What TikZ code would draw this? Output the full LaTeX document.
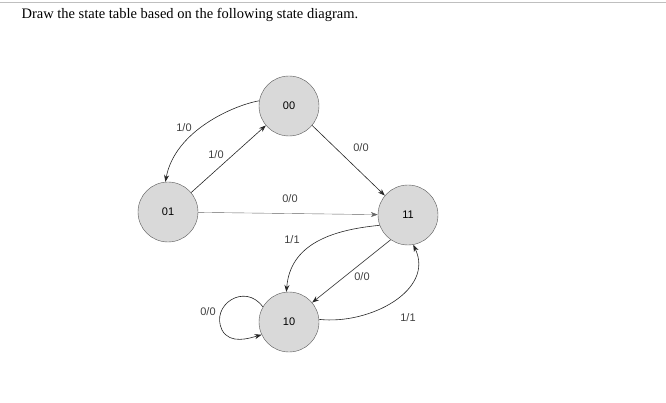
\documentclass[tikz,border=0pt]{standalone}
\usepackage{fontspec}
\setmainfont{Liberation Serif}
\newfontfamily\lab{Liberation Sans}
\usetikzlibrary{arrows.meta}
\begin{document}
\begin{tikzpicture}[x=1pt,y=-1pt,
  st/.style={circle,draw=gray!70!black,fill=gray!30,minimum size=60pt,inner sep=0,font=\lab\fontsize{11}{13}\selectfont},
  lb/.style={font=\lab\fontsize{11}{13}\selectfont,text=black!75},
  ed/.style={draw=black!85,line width=0.6pt,-{Stealth[length=7pt,width=5pt]}}]
\useasboundingbox (0,0) rectangle (666,403);
\draw[gray!50] (0,2) -- (666,2);
\node[anchor=west,font=\fontsize{14.5}{17}\selectfont] (title) at (18,15) {Draw the state table based on the following state diagram.};
\node[st] (s00) at (289,106) {00};
\node[st] (s01) at (168,212) {01};
\node[st] (s11) at (408,215) {11};
\node[st] (s10) at (289,322) {10};
\draw[ed] (s00.170) .. controls (235,105) and (175,130) .. (s01.95);
\node[lb] (l1) at (184,128) {1/0};
\draw[ed] (s01.40) -- (s00.220);
\node[lb] (l2) at (216,155) {1/0};
\draw[ed] (s00.-40) -- (s11.140);
\node[lb] (l3) at (361,148) {0/0};
\draw[ed,draw=black!60,line width=0.4pt] (s01) -- (s11);
\node[lb] (l4) at (290,199) {0/0};
\draw[ed] (s11.200) .. controls (330,230) and (290,245) .. (s10.95);
\node[lb] (l5) at (292,240) {1/1};
\draw[ed] (s11.235) -- (s10.40);
\node[lb] (l6) at (362,277) {0/0};
\draw[ed] (s10.5) .. controls (370,325) and (435,290) .. (s11.-80);
\node[lb] (l7) at (408,318) {1/1};
\draw[ed] (s10.150) .. controls (245,282) and (210,305) .. (222,330) .. controls (230,345) and (250,338) .. (s10.205);
\node[lb] (l8) at (208,312) {0/0};
\end{tikzpicture}
\end{document}
